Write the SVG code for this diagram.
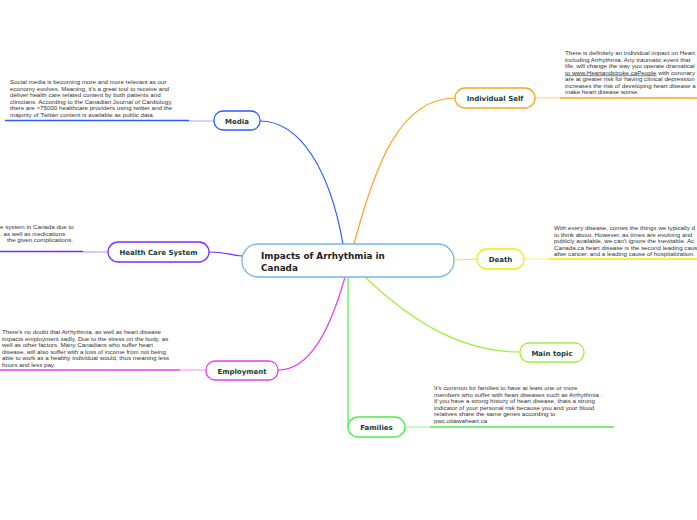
<svg xmlns="http://www.w3.org/2000/svg" width="697" height="520" viewBox="0 0 697 520">
<style>
.node{fill:#fff;stroke-width:1.3}
.lbl{font-family:"DejaVu Sans",Verdana,sans-serif;font-weight:bold;font-size:7px;fill:#143d33;text-anchor:middle}
.body{font-family:"Liberation Sans",Arial,sans-serif;font-size:6.2px;fill:#333}
.c{fill:none;stroke-width:1.2}
.u{fill:none;stroke-width:1.6}
</style>
<rect width="697" height="520" fill="#fff"/>
<g id="connectors">
<path class="c" d="M260,121 C300,121 330,170 343,244" stroke="#2a5cff"/>
<path class="c" d="M354,244 C375,165 400,98 455,98" stroke="#f5a623"/>
<path class="c" d="M209,252 C225,252 230,255 242,256" stroke="#7a2cf5"/>
<path class="c" d="M454,260 L477,259" stroke="#f0f000"/>
<path class="c" d="M365,277 C410,320 460,352 520,352" stroke="#a0f03a"/>
<path class="c" d="M345,277 C330,330 310,370 278,370" stroke="#e83cf0"/>
<path class="c" d="M348,277 L348,427" stroke="#4af04a"/>
<path class="c" d="M189,121 L214,121" stroke="#a9bcff"/>
<path class="c" d="M535,98 L560,98" stroke="#fbd59a"/>
<path class="c" d="M83,252 L108,252" stroke="#c4a3ff"/>
<path class="c" d="M524,259 L549,259" stroke="#f8f890"/>
<path class="c" d="M180,370 L206,370" stroke="#f2a3f6"/>
<path class="c" d="M405,427 L430,427" stroke="#a5f5a5"/>
</g>
<g id="center">
<rect x="242" y="244" width="212" height="33" rx="16" class="node" stroke="#7bb5e0" stroke-width="1.5"/>
<text x="261" y="259" font-family="DejaVu Sans,Verdana,sans-serif" font-weight="bold" font-size="8.8" fill="#222">Impacts of Arrhythmia in</text>
<text x="261" y="270.5" font-family="DejaVu Sans,Verdana,sans-serif" font-weight="bold" font-size="8.8" fill="#222">Canada</text>
</g>
<g id="media">
<rect x="214" y="111" width="46" height="19" rx="9" class="node" stroke="#2a5cff"/>
<text x="237" y="123.5" class="lbl">Media</text>
<path class="u" d="M5,120.5 L189,120.5" stroke="#2a5cff"/>
<text class="body">
<tspan x="10" y="84">Social media is becoming more and more relevant as our</tspan>
<tspan x="10" y="90.5">economy evolves. Meaning, it's a great tool to receive and</tspan>
<tspan x="10" y="97">deliver health care related content by both patients and</tspan>
<tspan x="10" y="103.5">clinicians. According to the Canadian Journal of Cardiology,</tspan>
<tspan x="10" y="110">there are &gt;75000 healthcare providers using twitter and the</tspan>
<tspan x="10" y="116.5">majority of Twitter content is available as public data.</tspan>
</text>
</g>
<g id="individual-self">
<rect x="455" y="88" width="80" height="20" rx="10" class="node" stroke="#f5a623"/>
<text x="495" y="100.5" class="lbl">Individual Self</text>
<path class="u" d="M560,98 L697,98" stroke="#f5a623"/>
<text class="body">
<tspan x="565" y="55">There is definitely an individual impact on Heart</tspan>
<tspan x="565" y="61.5">including Arrhythmia. Any traumatic event that</tspan>
<tspan x="565" y="68">life, will change the way you operate dramatical</tspan>
<tspan x="565" y="74.5"><tspan text-decoration="underline">to www.Heartandstroke.caPeople</tspan> with coronary a</tspan>
<tspan x="565" y="81">are at greater risk for having clinical depression</tspan>
<tspan x="565" y="87.5">increases the risk of developing heart disease a</tspan>
<tspan x="565" y="94">make heart disease worse.</tspan>
</text>
</g>
<g id="health-care-system">
<rect x="108" y="242" width="101" height="20" rx="10" class="node" stroke="#7a2cf5"/>
<text x="158.5" y="254.5" class="lbl">Health Care System</text>
<path class="u" d="M0,251.5 L83,251.5" stroke="#7a2cf5"/>
<text class="body">
<tspan x="0" y="229">e system in Canada due to</tspan>
<tspan x="0" y="235.5">, as well as medications</tspan>
<tspan x="7" y="242">the given complications.</tspan>
</text>
</g>
<g id="death">
<rect x="477" y="249" width="47" height="20" rx="10" class="node" stroke="#f0f000"/>
<text x="500.5" y="261.5" class="lbl">Death</text>
<path class="u" d="M549,259 L697,259" stroke="#f0f000"/>
<text class="body">
<tspan x="554" y="230">With every disease, comes the things we typically d</tspan>
<tspan x="554" y="236.5">to think about. However, as times are evolving and</tspan>
<tspan x="554" y="243">publicly available, we can't ignore the inevitable. Ac</tspan>
<tspan x="554" y="249.5">Canada.ca heart disease is the second leading caus</tspan>
<tspan x="554" y="256">after cancer, and a leading cause of hospitalization.</tspan>
</text>
</g>
<g id="main-topic">
<rect x="520" y="343" width="64" height="19" rx="9" class="node" stroke="#a0f03a"/>
<text x="552" y="355.5" class="lbl">Main topic</text>
</g>
<g id="employment">
<rect x="206" y="361" width="72" height="19" rx="9" class="node" stroke="#e83cf0"/>
<text x="242" y="373.5" class="lbl">Employment</text>
<path class="u" d="M0,370 L180,370" stroke="#e83cf0"/>
<text class="body">
<tspan x="2" y="334">There's no doubt that Arrhythmia, as well as heart disease</tspan>
<tspan x="2" y="340.5">impacts employment sadly. Due to the stress on the body, as</tspan>
<tspan x="2" y="347">well as other factors. Many Canadians who suffer heart</tspan>
<tspan x="2" y="353.5">disease, will also suffer with a loss of income from not being</tspan>
<tspan x="2" y="360">able to work as a healthy individual would, thus meaning less</tspan>
<tspan x="2" y="366.5">hours and less pay.</tspan>
</text>
</g>
<g id="families">
<rect x="348" y="417" width="57" height="20" rx="10" class="node" stroke="#4af04a"/>
<text x="376.5" y="429.5" class="lbl">Families</text>
<path class="u" d="M430,427 L614,427" stroke="#4af04a"/>
<text class="body">
<tspan x="434" y="390">It's common for families to have at least one or more</tspan>
<tspan x="434" y="396.5">members who suffer with  heart diseases such as Arrhythmia .</tspan>
<tspan x="434" y="403">If you have a strong history of heart disease, thats a strong</tspan>
<tspan x="434" y="409.5">indicator of your personal risk because you and your blood</tspan>
<tspan x="434" y="416">relatives share the same genes according to</tspan>
<tspan x="434" y="422.5">pwc.ottawaheart.ca</tspan>
</text>
</g>
</svg>
